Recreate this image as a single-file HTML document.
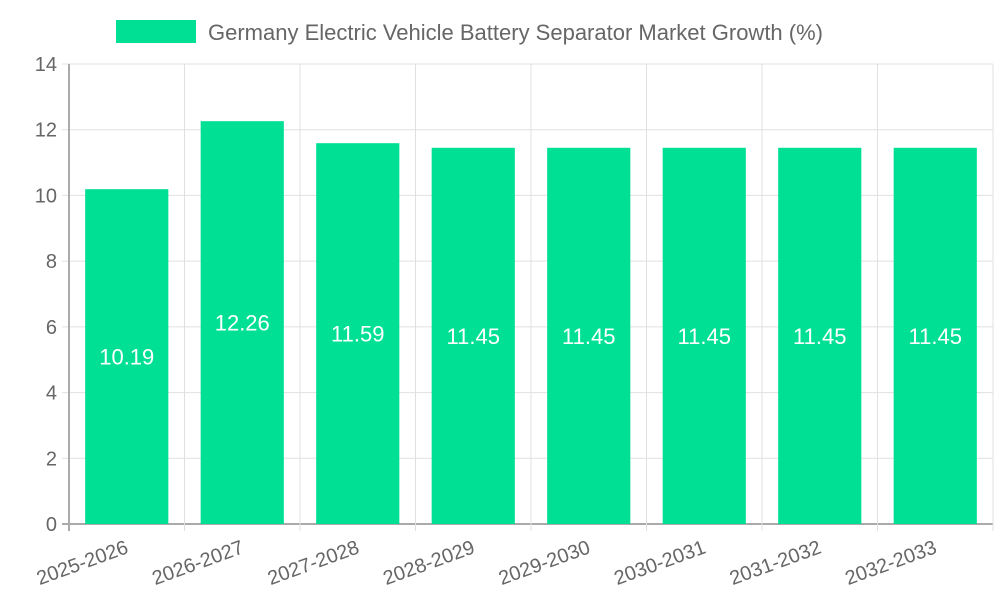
<!DOCTYPE html>
<html><head><meta charset="utf-8"><style>
body{margin:0;background:#fff;}
svg{display:block;font-family:"Liberation Sans",sans-serif;}
</style></head><body>
<svg id="c" width="1000" height="600">
<g id="grid"></g>
<g id="bars"></g>
<g id="labels"></g>
<rect x="116" y="20" width="80" height="23" fill="#00e094"/>
<text x="208" y="40" font-size="22" fill="#666">Germany Electric Vehicle Battery Separator Market Growth (%)</text>
</svg>
<script>
const categories=["2025-2026","2026-2027","2027-2028","2028-2029","2029-2030","2030-2031","2031-2032","2032-2033"];
const values=[10.19,12.26,11.59,11.45,11.45,11.45,11.45,11.45];
const yTicks=[0,2,4,6,8,10,12,14];
const L=69,R=993,T=64,B=524,yMax=14;
const ns="http://www.w3.org/2000/svg";
const yS=v=>B-(v/yMax)*(B-T);
const step=(R-L)/categories.length;
const xS=i=>L+step*i;
function mk(t,a,p){const e=document.createElementNS(ns,t);for(const k in a)e.setAttribute(k,a[k]);p.appendChild(e);return e;}
const g=document.getElementById('grid'),bg=document.getElementById('bars'),lg=document.getElementById('labels');
yTicks.forEach(v=>{
 const y=yS(v);
 const ln=mk('line',{x1:L-7,x2:R,y1:y,y2:y,stroke:v===0?'#aaa':'#e0e0e0','stroke-width':v===0?2:1},g);
 
 
 const t=mk('text',{x:L-12,y:y+7,'text-anchor':'end','font-size':20,fill:'#666'},g);
 t.textContent=v;
 
 
});
for(let i=0;i<=categories.length;i++){
 const x=xS(i);
 const ln=mk('line',{x1:x,x2:x,y1:T,y2:B+7,stroke:i===0?'#aaa':'#e0e0e0','stroke-width':i===0?2:1},g);
 
 
}
categories.forEach((c,i)=>{
 const bw=step*0.72,x=xS(i)+(step-bw)/2,y=yS(values[i]);
 const r=mk('rect',{x:x,y:y,width:bw,height:B-y,fill:'#00e094'},bg);
 
 
 const cx=xS(i)+step/2;
 const vt=mk('text',{x:cx,y:(y+B)/2+8,'text-anchor':'middle','font-size':22,fill:'#fff'},bg);
 vt.textContent=values[i].toFixed(2);
 
 
 const lt=mk('text',{x:cx,y:553,'text-anchor':'end','font-size':20,fill:'#666',transform:`rotate(-20 ${cx} 545)`},lg);
 lt.textContent=c;
 
 
});
</script>
</body></html>
